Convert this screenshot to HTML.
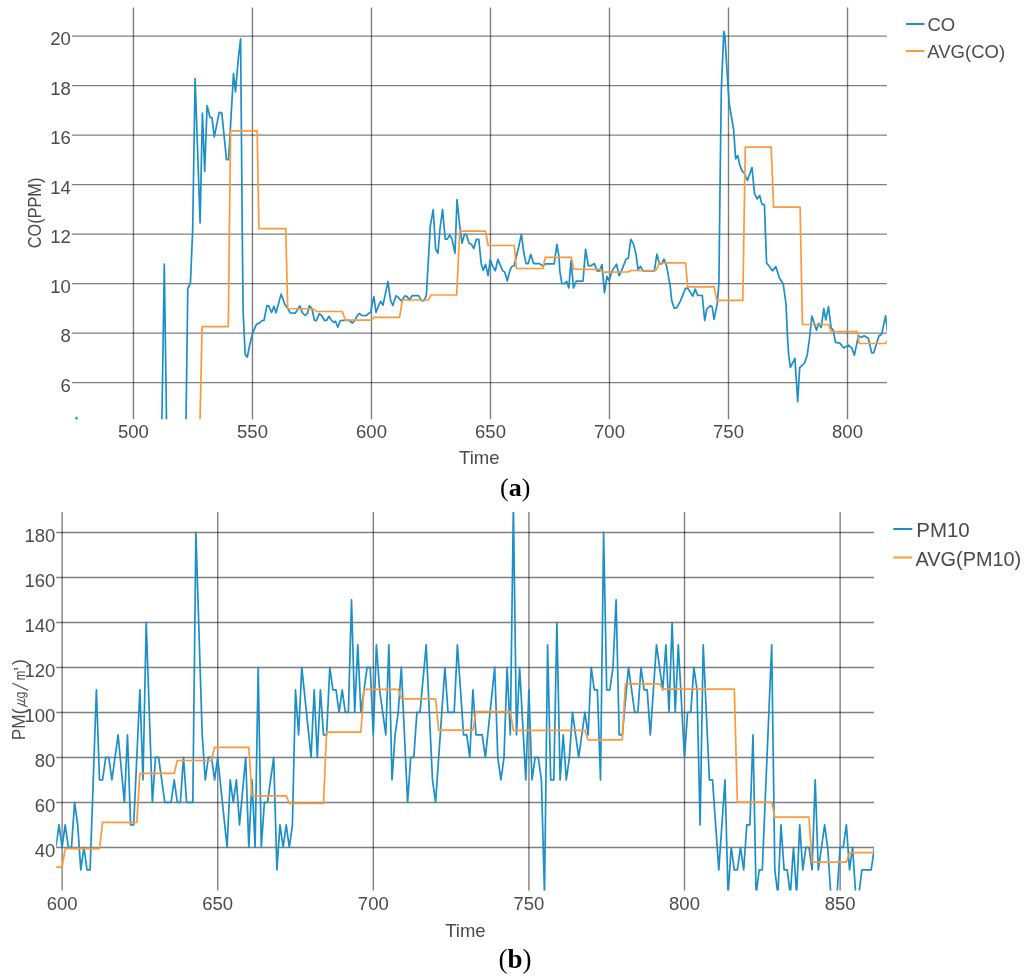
<!DOCTYPE html><html><head><meta charset="utf-8"><title>CO and PM10 time series</title><style>
html,body{margin:0;padding:0;background:#fff;width:1024px;height:979px;overflow:hidden}
svg{display:block}
.t{font-family:"Liberation Sans","Noto Sans CJK SC",sans-serif;fill:#4a4a4a}
.s{font-family:"Liberation Serif","Noto Serif CJK SC",serif;fill:#000}
.cj{font-family:"WenQuanYi Zen Hei",sans-serif}
</style></head><body>
<svg width="1024" height="979" viewBox="0 0 1024 979">
<rect width="1024" height="979" fill="#fff"/>
<defs>
<clipPath id="ca"><rect x="71.9" y="7.5" width="815.0" height="411.8"/></clipPath>
<clipPath id="cb"><rect x="56.2" y="512.1" width="817.8" height="378.4"/></clipPath>
</defs>
<path d="M133.45 7.5V419.3M252.46 7.5V419.3M371.47 7.5V419.3M490.48 7.5V419.3M609.49 7.5V419.3M728.50 7.5V419.3M847.51 7.5V419.3" stroke="rgba(0,0,0,0.5)" stroke-width="1.4" fill="none"/>
<path d="M71.9 382.63H886.9M71.9 333.13H886.9M71.9 283.63H886.9M71.9 234.13H886.9M71.9 184.63H886.9M71.9 135.13H886.9M71.9 85.63H886.9M71.9 36.13H886.9" stroke="rgba(0,0,0,0.5)" stroke-width="1.4" fill="none"/>
<g clip-path="url(#ca)" fill="none" stroke-width="1.7" stroke-linejoin="round">
<polyline points="75.0,421.0 76.5,417.5 78.0,421.0" stroke="#1b90c8"/>
<polyline points="161.9,421.0 164.3,264.0 166.5,421.0" stroke="#1b90c8"/>
<polyline points="186.0,421.0 187.8,288.5 190.4,283.4 192.7,229.0 195.1,78.5 200.1,223.0 202.4,113.2 204.7,171.5 207.1,105.6 210.0,117.2 212.0,117.9 214.3,136.8 219.2,112.3 221.8,112.8 226.5,159.7 228.6,159.7 233.5,73.6 235.5,91.9 238.2,59.7 240.6,38.9 242.2,225.0 243.1,311.1 245.2,354.5 247.3,357.1 249.5,345.8 252.5,333.7 255.6,325.9 257.7,323.3 259.4,323.3 261.7,320.7 264.0,320.3 266.9,305.6 268.6,305.9 271.6,312.5 273.9,306.3 276.1,312.8 281.1,294.1 284.8,304.2 287.7,308.5 290.3,312.8 295.2,313.2 299.9,305.9 302.2,312.5 305.1,315.5 307.7,312.8 309.4,305.9 312.0,308.5 314.3,320.1 316.4,320.7 319.3,313.7 321.6,315.5 324.7,320.7 326.8,320.1 328.9,316.3 331.1,319.8 333.8,322.4 335.5,321.2 337.8,327.2 340.4,320.5 344.8,320.3 348.7,320.3 352.4,323.0 355.0,320.3 356.5,316.9 359.2,313.5 361.9,315.4 366.3,315.6 368.7,313.3 370.9,312.5 371.6,306.6 373.9,296.7 376.0,312.5 378.5,305.7 380.7,301.3 383.0,305.2 387.9,281.7 390.7,300.8 392.8,305.5 396.0,295.7 398.3,297.4 401.4,301.0 405.1,295.7 407.3,296.7 409.4,300.3 412.1,295.7 418.5,295.7 421.4,300.6 423.9,300.6 426.3,295.9 430.3,226.1 433.2,209.7 435.6,249.0 437.9,253.2 440.0,228.5 442.6,209.7 445.2,239.1 447.3,239.1 449.7,234.9 452.0,239.1 455.0,253.2 457.0,199.7 459.7,225.5 462.0,243.2 464.4,234.4 466.4,234.4 469.1,243.2 471.4,244.3 473.8,248.5 476.4,239.3 478.8,239.3 481.2,263.7 483.2,270.5 485.5,264.3 488.1,275.5 490.2,259.6 492.6,266.1 495.3,270.8 497.9,259.3 500.2,264.9 502.6,270.8 504.7,272.0 507.3,280.8 509.6,271.4 511.7,266.7 514.1,265.8 517.8,250.8 521.4,234.4 523.9,253.3 526.1,263.6 528.3,263.6 530.7,254.3 533.5,263.6 539.5,263.6 543.0,266.0 545.6,263.9 554.2,263.9 556.9,244.3 559.1,257.2 559.8,270.9 561.8,283.6 564.4,283.6 566.7,281.4 568.8,288.0 571.0,260.6 573.5,288.0 576.2,281.2 583.0,281.2 585.6,249.4 588.4,266.0 590.3,266.0 594.4,263.6 597.1,270.9 599.6,270.9 602.0,264.6 604.5,292.9 606.9,276.3 609.1,280.7 611.8,271.4 616.5,264.2 619.1,275.6 622.7,267.9 626.0,259.2 628.3,258.2 630.8,239.3 633.4,243.9 635.9,253.6 638.0,269.4 640.5,266.4 643.1,271.0 654.3,271.0 656.9,254.1 659.4,263.8 661.5,263.8 664.0,259.2 666.6,265.9 670.2,286.3 671.7,300.6 674.2,308.2 676.8,307.7 680.4,301.1 685.5,288.3 687.7,288.1 692.8,296.0 695.2,289.1 697.7,295.5 702.3,295.5 704.7,320.5 706.9,308.8 710.5,305.7 712.2,307.0 714.0,319.5 717.2,303.9 718.9,283.1 720.3,165.0 721.3,90.3 723.8,31.4 724.9,36.3 727.9,85.4 729.2,103.3 733.6,129.5 735.7,158.9 737.7,155.6 740.1,166.2 742.3,171.1 744.2,172.8 747.4,180.5 752.0,167.6 754.5,193.6 757.1,198.9 759.7,195.4 761.9,204.1 764.4,204.6 766.6,263.1 768.9,265.7 772.4,270.9 775.8,266.6 779.3,277.8 783.2,284.0 786.0,303.9 787.3,333.1 788.6,354.4 790.4,367.4 794.9,358.4 797.7,401.6 799.7,367.7 804.6,363.0 807.2,355.1 809.5,338.5 811.9,316.1 816.5,330.2 818.8,323.2 821.2,327.6 823.8,308.6 825.8,319.9 828.5,306.6 831.1,327.8 833.1,329.8 835.5,342.4 839.8,343.1 843.8,348.0 848.4,345.1 851.7,347.8 854.4,355.1 858.4,335.8 861.7,337.4 864.0,335.8 868.3,338.2 871.7,352.8 873.7,352.8 879.0,335.8 881.6,334.5 885.6,315.9 887.5,332.0" stroke="#1b90c8"/>
<polyline points="200.0,421.0 202.1,326.7 228.3,326.7 230.6,130.8 257.2,130.8 258.9,228.6 285.7,228.6 287.7,308.5 313.8,309.0 316.4,311.5 342.3,311.5 345.3,320.1 370.9,320.1 374.1,317.4 399.6,317.4 402.4,300.0 428.3,300.0 431.2,295.0 456.7,295.0 459.7,231.1 485.5,231.1 488.2,245.5 514.3,245.5 516.4,268.5 543.0,268.5 545.2,257.4 571.3,257.4 573.7,269.2 600.1,269.4 602.5,272.1 628.3,272.0 630.8,270.5 655.9,270.5 659.4,262.8 685.5,262.8 687.7,286.8 714.1,286.8 716.8,300.4 742.8,300.4 745.3,147.1 771.2,147.1 773.6,207.2 800.1,207.2 802.4,324.5 828.5,324.5 831.1,331.5 857.1,331.5 859.3,343.5 885.6,343.5 887.5,340.5" stroke="#ff9838"/>
</g>
<path d="M62.13 512.1V890.5M217.73 512.1V890.5M373.33 512.1V890.5M528.93 512.1V890.5M684.53 512.1V890.5M840.13 512.1V890.5" stroke="rgba(0,0,0,0.5)" stroke-width="1.4" fill="none"/>
<path d="M56.2 847.43H874.0M56.2 802.43H874.0M56.2 757.43H874.0M56.2 712.43H874.0M56.2 667.43H874.0M56.2 622.43H874.0M56.2 577.43H874.0M56.2 532.43H874.0" stroke="rgba(0,0,0,0.5)" stroke-width="1.4" fill="none"/>
<g clip-path="url(#cb)" fill="none" stroke-width="1.7" stroke-linejoin="round">
<polyline points="55.9,847.4 59.0,824.9 62.1,847.4 65.2,824.9 68.4,847.4 71.5,847.4 74.6,802.4 77.7,824.9 80.8,869.9 83.9,847.4 87.0,869.9 90.1,869.9 96.4,689.9 99.5,779.9 102.6,779.9 105.7,757.4 108.8,757.4 111.9,779.9 118.1,734.9 124.4,802.4 127.5,734.9 130.6,824.9 133.7,824.9 136.8,757.4 139.9,689.9 143.0,779.9 146.2,622.4 152.4,802.4 155.5,757.4 158.6,757.4 164.8,802.4 167.9,802.4 171.1,802.4 174.2,779.9 177.3,802.4 180.4,802.4 183.5,757.4 186.6,802.4 189.7,802.4 192.8,802.4 195.9,532.4 202.2,734.9 205.3,779.9 208.4,757.4 211.5,757.4 214.6,779.9 217.7,757.4 227.1,847.4 230.2,779.9 233.3,802.4 236.4,779.9 239.5,824.9 245.7,757.4 248.8,847.4 252.0,779.9 255.1,847.4 258.2,667.4 261.3,847.4 264.4,802.4 267.5,802.4 270.6,779.9 273.7,757.4 276.9,869.9 280.0,824.9 283.1,847.4 286.2,824.9 289.3,847.4 292.4,824.9 295.5,689.9 298.6,734.9 301.8,667.4 311.1,757.4 314.2,689.9 317.3,757.4 320.4,689.9 323.5,734.9 326.6,734.9 329.8,667.4 332.9,689.9 336.0,689.9 339.1,712.4 342.2,689.9 345.3,712.4 348.4,712.4 351.5,599.9 354.7,712.4 357.8,644.9 360.9,712.4 364.0,689.9 367.1,667.4 370.2,667.4 373.3,734.9 376.4,644.9 379.6,689.9 382.7,712.4 385.8,734.9 388.9,644.9 392.0,779.9 395.1,734.9 398.2,712.4 401.3,667.4 407.6,802.4 410.7,757.4 413.8,757.4 416.9,712.4 420.0,712.4 426.2,644.9 429.3,712.4 432.5,779.9 435.6,802.4 444.9,667.4 448.0,712.4 451.1,712.4 454.2,712.4 457.4,644.9 463.6,734.9 466.7,734.9 469.8,757.4 472.9,689.9 476.0,734.9 479.1,734.9 482.2,734.9 485.4,757.4 494.7,667.4 497.8,757.4 500.9,779.9 504.0,757.4 507.1,667.4 510.3,734.9 513.4,505.4 516.5,734.9 519.6,667.4 525.8,779.9 528.9,689.9 532.0,779.9 535.2,757.4 538.3,757.4 541.4,779.9 544.5,894.7 547.6,644.9 550.7,779.9 553.8,779.9 556.9,622.4 560.1,779.9 563.2,734.9 566.3,779.9 569.4,757.4 572.5,712.4 575.6,734.9 578.7,757.4 581.8,734.9 584.9,712.4 588.1,734.9 591.2,667.4 594.3,689.9 597.4,689.9 600.5,779.9 603.6,532.4 606.7,689.9 609.8,689.9 613.0,667.4 616.1,599.9 619.2,734.9 622.3,734.9 628.5,667.4 631.6,689.9 634.7,712.4 637.9,712.4 641.0,667.4 644.1,689.9 647.2,689.9 650.3,734.9 656.5,644.9 662.7,689.9 665.9,644.9 669.0,712.4 672.1,622.4 675.2,712.4 678.3,644.9 684.5,757.4 687.6,712.4 690.8,712.4 693.9,667.4 697.0,689.9 700.1,824.9 703.2,644.9 709.4,779.9 712.5,779.9 718.8,869.9 725.0,779.9 728.1,894.7 731.2,847.4 734.3,869.9 737.4,869.9 740.5,847.4 743.7,869.9 746.8,824.9 749.9,824.9 753.0,734.9 756.1,894.7 759.2,869.9 762.3,869.9 771.7,644.9 774.8,869.9 777.9,894.7 781.0,824.9 784.1,869.9 787.2,869.9 790.3,894.7 793.5,847.4 796.6,894.7 799.7,824.9 802.8,869.9 805.9,847.4 809.0,847.4 812.1,869.9 815.2,779.9 818.3,869.9 821.5,847.4 824.6,824.9 827.7,847.4 830.8,894.7 833.9,894.7 837.0,894.7 840.1,847.4 843.2,847.4 846.4,824.9 849.5,869.9 852.6,847.4 855.7,894.7 858.8,894.7 861.9,869.9 865.0,869.9 868.1,869.9 871.2,869.9 874.4,847.4" stroke="#1b90c8"/>
<polyline points="55.9,867.1 62.1,867.1 65.2,848.6 99.5,848.6 102.6,822.3 136.8,822.3 139.9,773.4 174.2,773.4 177.3,760.5 211.5,760.5 214.6,747.3 248.8,747.3 252.0,795.8 286.2,795.8 289.3,803.4 323.5,803.4 326.6,732.2 360.9,732.2 364.0,689.3 398.2,689.3 401.3,698.8 435.6,698.8 438.7,730.2 472.9,730.2 476.0,711.6 510.3,711.6 513.4,730.4 584.9,730.4 588.1,739.9 622.3,739.9 625.4,683.8 659.6,683.8 662.7,689.2 734.3,689.2 737.4,802.1 771.7,802.1 774.8,817.2 809.0,817.2 812.1,862.2 846.4,862.2 849.5,852.7 877.5,852.7" stroke="#ff9838"/>
</g>
<text class="t" x="70.8" y="391.9" font-size="18.5" text-anchor="end">6</text>
<text class="t" x="70.8" y="342.4" font-size="18.5" text-anchor="end">8</text>
<text class="t" x="70.8" y="292.9" font-size="18.5" text-anchor="end">10</text>
<text class="t" x="70.8" y="243.4" font-size="18.5" text-anchor="end">12</text>
<text class="t" x="70.8" y="193.9" font-size="18.5" text-anchor="end">14</text>
<text class="t" x="70.8" y="144.4" font-size="18.5" text-anchor="end">16</text>
<text class="t" x="70.8" y="94.9" font-size="18.5" text-anchor="end">18</text>
<text class="t" x="70.8" y="45.4" font-size="18.5" text-anchor="end">20</text>
<text class="t" x="133.4" y="438.4" font-size="18.5" text-anchor="middle">500</text>
<text class="t" x="252.5" y="438.4" font-size="18.5" text-anchor="middle">550</text>
<text class="t" x="371.5" y="438.4" font-size="18.5" text-anchor="middle">600</text>
<text class="t" x="490.5" y="438.4" font-size="18.5" text-anchor="middle">650</text>
<text class="t" x="609.5" y="438.4" font-size="18.5" text-anchor="middle">700</text>
<text class="t" x="728.5" y="438.4" font-size="18.5" text-anchor="middle">750</text>
<text class="t" x="847.5" y="438.4" font-size="18.5" text-anchor="middle">800</text>
<text class="t" x="479.3" y="464" font-size="18.5" text-anchor="middle">Time</text>
<text class="t" transform="translate(41.4,212.9) rotate(-90)" x="0" y="0" font-size="18.5" text-anchor="middle" textLength="70.5" lengthAdjust="spacingAndGlyphs">CO(PPM)</text>
<line x1="905.9" y1="24" x2="924.5" y2="24" stroke="#1b90c8" stroke-width="2"/>
<line x1="905.9" y1="51" x2="924.5" y2="51" stroke="#ff9838" stroke-width="2"/>
<text class="t" x="927.5" y="31.3" font-size="18.5">CO</text>
<text class="t" x="927.3" y="58.4" font-size="18.5">AVG(CO)</text>
<text class="s" x="515.2" y="496.3" font-size="26" text-anchor="middle">(<tspan font-weight="bold">a</tspan>)</text>
<text class="t" x="55.3" y="856.7" font-size="18.5" text-anchor="end">40</text>
<text class="t" x="55.3" y="811.7" font-size="18.5" text-anchor="end">60</text>
<text class="t" x="55.3" y="766.7" font-size="18.5" text-anchor="end">80</text>
<text class="t" x="55.3" y="721.7" font-size="18.5" text-anchor="end">100</text>
<text class="t" x="55.3" y="676.7" font-size="18.5" text-anchor="end">120</text>
<text class="t" x="55.3" y="631.7" font-size="18.5" text-anchor="end">140</text>
<text class="t" x="55.3" y="586.7" font-size="18.5" text-anchor="end">160</text>
<text class="t" x="55.3" y="541.7" font-size="18.5" text-anchor="end">180</text>
<text class="t" x="62.1" y="909.9" font-size="18.5" text-anchor="middle">600</text>
<text class="t" x="217.7" y="909.9" font-size="18.5" text-anchor="middle">650</text>
<text class="t" x="373.3" y="909.9" font-size="18.5" text-anchor="middle">700</text>
<text class="t" x="528.9" y="909.9" font-size="18.5" text-anchor="middle">750</text>
<text class="t" x="684.5" y="909.9" font-size="18.5" text-anchor="middle">800</text>
<text class="t" x="840.1" y="909.9" font-size="18.5" text-anchor="middle">850</text>
<text class="t" x="465.4" y="936.7" font-size="18.5" text-anchor="middle">Time</text>
<text class="t" transform="translate(24.5,699.7) rotate(-90)" x="0" y="0" font-size="18.5" text-anchor="middle" textLength="81" lengthAdjust="spacingAndGlyphs">PM(<tspan class="cj">㎍/㎥</tspan>)</text>
<line x1="893.3" y1="529" x2="912.3" y2="529" stroke="#1b90c8" stroke-width="2"/>
<line x1="893.3" y1="557.5" x2="912.3" y2="557.5" stroke="#ff9838" stroke-width="2"/>
<text class="t" x="916.3" y="537" font-size="19.5" textLength="53.4" lengthAdjust="spacingAndGlyphs">PM10</text>
<text class="t" x="915.5" y="565.5" font-size="19.5" textLength="105.7" lengthAdjust="spacingAndGlyphs">AVG(PM10)</text>
<text class="s" x="515" y="968.3" font-size="27" text-anchor="middle">(<tspan font-weight="bold">b</tspan>)</text>
</svg></body></html>
